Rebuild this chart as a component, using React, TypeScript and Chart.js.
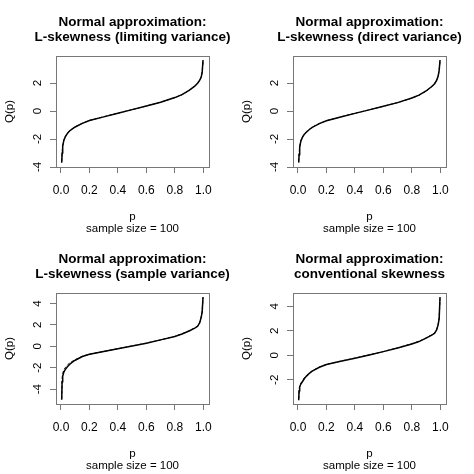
import { useEffect, useRef } from "react";
import { Chart, registerables } from "chart.js";

Chart.register(...registerables);

// Probability grid shared by every panel
const P_GRID = [0.005, 0.008, 0.012, 0.02, 0.03, 0.045, 0.06, 0.08, 0.1, 0.15, 0.2, 0.3, 0.4, 0.5, 0.6, 0.7, 0.8, 0.85, 0.9, 0.94, 0.96, 0.975, 0.985, 0.992, 0.998];

// L-skewness, limiting variance
const Q_LIMITING = [-3.69, -3.0, -2.5, -2.1, -1.85, -1.6, -1.43, -1.27, -1.14, -0.88, -0.68, -0.42, -0.16, 0.1, 0.36, 0.63, 0.96, 1.17, 1.47, 1.78, 1.98, 2.2, 2.42, 2.75, 3.64];
const Q_LIMITING_NORMAL = [-3.6, -2.95, -2.47, -2.08, -1.83, -1.59, -1.42, -1.26, -1.13, -0.87, -0.67, -0.41, -0.15, 0.1, 0.36, 0.63, 0.95, 1.16, 1.46, 1.77, 1.97, 2.2, 2.44, 2.8, 3.5];

// L-skewness, direct variance
const Q_DIRECT = [-3.69, -3.1, -2.6, -2.15, -1.9, -1.65, -1.5, -1.32, -1.17, -0.9, -0.7, -0.43, -0.17, 0.08, 0.34, 0.6, 0.93, 1.13, 1.43, 1.75, 1.95, 2.2, 2.5, 2.9, 3.64];
const Q_DIRECT_NORMAL = [-3.6, -3.02, -2.55, -2.12, -1.88, -1.63, -1.48, -1.31, -1.16, -0.89, -0.69, -0.42, -0.16, 0.08, 0.34, 0.6, 0.92, 1.12, 1.42, 1.74, 1.95, 2.22, 2.52, 2.92, 3.55];

// L-skewness, sample variance
const Q_SAMPLE = [-5.0, -3.3, -2.8, -2.4, -2.18, -1.92, -1.7, -1.48, -1.3, -0.95, -0.75, -0.48, -0.22, 0.03, 0.29, 0.6, 0.92, 1.15, 1.43, 1.7, 1.87, 2.2, 2.7, 3.2, 4.6];
const Q_SAMPLE_NORMAL = [-4.9, -3.0, -2.55, -2.2, -2.0, -1.75, -1.57, -1.4, -1.25, -0.93, -0.74, -0.48, -0.22, 0.03, 0.3, 0.6, 0.93, 1.16, 1.45, 1.72, 1.9, 2.25, 2.75, 3.3, 4.5];

// Conventional skewness
const Q_CONVENTIONAL = [-3.68, -2.9, -2.6, -2.35, -2.18, -1.9, -1.7, -1.47, -1.3, -0.98, -0.76, -0.49, -0.24, 0.02, 0.3, 0.6, 0.93, 1.12, 1.4, 1.65, 1.8, 2.1, 2.5, 3.0, 4.77];
const Q_CONVENTIONAL_NORMAL = [-3.55, -2.8, -2.5, -2.28, -2.12, -1.85, -1.66, -1.44, -1.27, -0.96, -0.74, -0.48, -0.23, 0.03, 0.31, 0.61, 0.95, 1.14, 1.42, 1.68, 1.84, 2.15, 2.55, 3.05, 4.6];

const X_TICKS = [0, 0.2, 0.4, 0.6, 0.8, 1.0];
const Y_TICKS_L = [-4, -2, 0, 2];
const Y_TICKS_SAMPLE = [-4, -2, 0, 2, 4];
const Y_TICKS_CONV = [-2, 0, 2, 4];

const X_LABEL = "p";
const Y_LABEL = "Q(p)";
const SUB_LABEL = "sample size = 100";

const X_MIN = -0.035;
const X_MAX = 1.04;

const FONT = '"Liberation Sans", Arial, sans-serif';
const FRAME = "#777";

type PanelProps = {
  title: string[];
  solid: number[];
  dashed: number[];
  yMin: number;
  yMax: number;
  yTicks: number[];
};

function Panel({ title, solid, dashed, yMin, yMax, yTicks }: PanelProps) {
  const ref = useRef<HTMLCanvasElement>(null);

  useEffect(() => {
    if (!ref.current) return;

    // R-style frame, titles, rotated y tick labels and axis captions
    const annotate = {
      id: "rAnnotations",
      afterDraw(chart: any) {
        const { ctx, chartArea: a, scales } = chart;
        ctx.save();
        ctx.strokeStyle = FRAME;
        ctx.lineWidth = 1;
        ctx.strokeRect(Math.round(a.left) + 0.5, Math.round(a.top) + 0.5, Math.round(a.width), Math.round(a.height));

        const cx = (a.left + a.right) / 2;
        ctx.fillStyle = "#000";
        ctx.textAlign = "center";
        ctx.textBaseline = "middle";
        ctx.font = `bold 13.5px ${FONT}`;
        ctx.fillText(title[0], cx, a.top - 34);
        ctx.fillText(title[1], cx, a.top - 19);

        ctx.font = `11.5px ${FONT}`;
        for (const v of yTicks) {
          const y = scales.y.getPixelForValue(v);
          ctx.save();
          ctx.translate(a.left - 18, y);
          ctx.rotate(-Math.PI / 2);
          ctx.fillText(String(v), 0, 0);
          ctx.restore();
        }

        ctx.save();
        ctx.translate(a.left - 46, (a.top + a.bottom) / 2);
        ctx.rotate(-Math.PI / 2);
        ctx.fillText(Y_LABEL, 0, 0);
        ctx.restore();

        ctx.fillText(X_LABEL, cx, a.bottom + 50);
        ctx.fillText(SUB_LABEL, cx, a.bottom + 62);
        ctx.restore();
      },
    };

    const chart = new Chart(ref.current, {
      type: "scatter",
      data: {
        datasets: [
          {
            data: P_GRID.map((p, i) => ({ x: p, y: dashed[i] })),
            showLine: true,
            borderColor: "#000",
            borderWidth: 1,
            borderDash: [3, 2],
            pointRadius: 0,
          },
          {
            data: P_GRID.map((p, i) => ({ x: p, y: solid[i] })),
            showLine: true,
            borderColor: "#000",
            borderWidth: 1.5,
            pointRadius: 0,
          },
        ],
      },
      options: {
        responsive: false,
        animation: false,
        devicePixelRatio: 1,
        events: [],
        layout: { padding: { left: 16, top: 56, right: 28, bottom: 30 } },
        plugins: {
          legend: { display: false },
          tooltip: { enabled: false },
          title: { display: false },
        },
        scales: {
          x: {
            type: "linear",
            min: X_MIN,
            max: X_MAX,
            afterBuildTicks: (s: any) => {
              s.ticks = X_TICKS.map((v) => ({ value: v }));
            },
            afterFit: (s: any) => {
              s.height = 40;
            },
            grid: { display: true, drawOnChartArea: false, drawTicks: true, tickLength: 6, color: FRAME, lineWidth: 1 },
            border: { display: true, color: FRAME, width: 1 },
            ticks: {
              callback: (v: any) => Number(v).toFixed(1),
              color: "#000",
              font: { family: FONT, size: 12 },
              padding: 10,
              maxRotation: 0,
              minRotation: 0,
              autoSkip: false,
            },
          },
          y: {
            type: "linear",
            min: yMin,
            max: yMax,
            afterBuildTicks: (s: any) => {
              s.ticks = yTicks.map((v) => ({ value: v }));
            },
            afterFit: (s: any) => {
              s.width = 40;
            },
            grid: { display: true, drawOnChartArea: false, drawTicks: true, tickLength: 6, color: FRAME, lineWidth: 1 },
            border: { display: true, color: FRAME, width: 1 },
            ticks: { display: false },
          },
        },
      },
      plugins: [annotate],
    } as any);

    return () => chart.destroy();
  }, [title, solid, dashed, yMin, yMax, yTicks]);

  return <canvas ref={ref} width={237} height={237} style={{ display: "block", width: 237, height: 237 }} />;
}

const TITLE_LIMITING = ["Normal approximation:", "L-skewness (limiting variance)"];
const TITLE_DIRECT = ["Normal approximation:", "L-skewness (direct variance)"];
const TITLE_SAMPLE = ["Normal approximation:", "L-skewness (sample variance)"];
const TITLE_CONV = ["Normal approximation:", "conventional skewness"];

export default function App() {
  return (
    <div
      style={{
        position: "fixed",
        left: 0,
        top: 0,
        width: 474,
        height: 474,
        background: "#fff",
        display: "grid",
        gridTemplateColumns: "237px 237px",
        gridTemplateRows: "237px 237px",
      }}
    >
      <Panel title={TITLE_LIMITING} solid={Q_LIMITING} dashed={Q_LIMITING_NORMAL} yMin={-4.0} yMax={3.93} yTicks={Y_TICKS_L} />
      <Panel title={TITLE_DIRECT} solid={Q_DIRECT} dashed={Q_DIRECT_NORMAL} yMin={-4.0} yMax={3.93} yTicks={Y_TICKS_L} />
      <Panel title={TITLE_SAMPLE} solid={Q_SAMPLE} dashed={Q_SAMPLE_NORMAL} yMin={-5.39} yMax={4.98} yTicks={Y_TICKS_SAMPLE} />
      <Panel title={TITLE_CONV} solid={Q_CONVENTIONAL} dashed={Q_CONVENTIONAL_NORMAL} yMin={-3.98} yMax={5.09} yTicks={Y_TICKS_CONV} />
    </div>
  );
}
